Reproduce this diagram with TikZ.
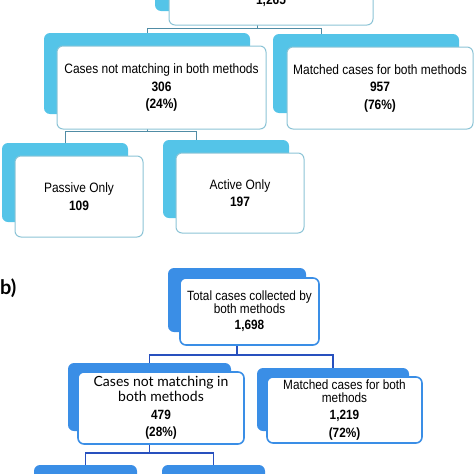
\documentclass[tikz,border=0pt]{standalone}
\usepackage{fontspec}
\usepackage{tikz}
\usetikzlibrary{positioning,calc}
\setmainfont[FakeStretch=0.88]{Liberation Sans}
\newfontfamily\gillfont{Lato}
\definecolor{skyback}{RGB}{84,196,232}
\definecolor{skyedge}{RGB}{140,196,214}
\definecolor{skyline}{RGB}{80,140,165}
\definecolor{deepback}{RGB}{58,142,230}
\definecolor{deepline}{RGB}{40,80,190}
\newcommand\boxfonta{\fontsize{13.6}{17.5}\selectfont}
\newcommand\boxfontb{\fontsize{13.4}{12.5}\selectfont}
\newcommand\numb[1]{{\normalfont\bfseries #1}}

\begin{document}
\begin{tikzpicture}[%
    x=1pt, y=-1pt,              % pixel grid, top to bottom
    ]
\tikzset{
  backa/.style={fill=skyback, rounded corners=6pt, inner sep=0pt},
  fronta/.style={draw=skyedge, fill=white, line width=1pt, rounded corners=6pt, align=center, font=\boxfonta, inner sep=0pt},
  backb/.style={fill=deepback, rounded corners=6pt, inner sep=0pt},
  frontb/.style={draw=deepback, fill=white, line width=1.6pt, rounded corners=6pt, align=center, font=\boxfontb, inner sep=0pt},
  linka/.style={draw=skyline, line width=0.9pt},
  linkb/.style={draw=deepline, line width=1.8pt},
}
\useasboundingbox (0,0) rectangle (474,474);
\clip (0,0) rectangle (474,474);

% (a) back boxes
\node [backa, minimum width=204, minimum height=66] (a0b) at (257,-22) {};
\node [backa, minimum width=206, minimum height=81] (a1b) at (147,73.5) {};
\node [backa, minimum width=186, minimum height=79] (a2b) at (366,73.5) {};
\node [backa, minimum width=126, minimum height=79] (a3b) at (65,182.5) {};
\node [backa, minimum width=126, minimum height=78] (a4b) at (226,179) {};

% (b) back boxes
\node [backb, minimum width=138, minimum height=64] (b0b) at (237,300) {};
\node [backb, minimum width=163, minimum height=68] (b1b) at (149.5,397) {};
\node [backb, minimum width=152, minimum height=63] (b2b) at (333,399.5) {};
\node [backb, minimum width=103, minimum height=70] (b3b) at (85.5,500) {};
\node [backb, minimum width=103, minimum height=70] (b4b) at (213.5,500) {};

%connect
\draw [linka] (a0b.south) -- ++(0,17) -| (a1b.north);
\draw [linka] (a0b.south) -- ++(0,17) -| ([xshift=-45]a2b.north);
\draw [linka] (a1b.south) -- ++(0,17) -| (a3b.north);
\draw [linka] (a1b.south) -- ++(0,17) -| ([xshift=-30]a4b.north);
\draw [linkb] (b0b.south) -- ++(0,23) -| (b1b.north);
\draw [linkb] (b0b.south) -- ++(0,23) -| (b2b.north);
\draw [linkb] (b1b.south) -- ++(0,22) -| (b3b.north);
\draw [linkb] (b1b.south) -- ++(0,22) -| (b4b.north);

% (a) front boxes
\node [fronta, minimum width=204, minimum height=66] (a0) at (271,-8) {};
\node [font=\boxfonta\bfseries, anchor=base] (a0num) at (271,4) {1,265};
\node [fronta, minimum width=209, minimum height=83] (a1) at (161.5,87.5)
  {Cases not matching in both methods\\ \numb{306}\\ \numb{(24\%)}};
\node [fronta, minimum width=186, minimum height=82] (a2) at (380,88)
  {Matched cases for both methods\\ \numb{957}\\ \numb{(76\%)}};
\node [fronta, minimum width=128, minimum height=81] (a3) at (79,196.5)
  {Passive Only\\ \numb{109}};
\node [fronta, minimum width=128, minimum height=80] (a4) at (240,193)
  {Active Only\\ \numb{197}};

% (b)
\node [font=\gillfont\bfseries\fontsize{20}{20}\selectfont, anchor=base west, inner sep=0pt] (blabel) at (0,294) {b)};
\node [frontb, minimum width=139, minimum height=67] (b0) at (249.5,311.5)
  {Total cases collected by\\ both methods\\[4pt] \numb{1,698}};
\node [frontb, minimum width=166, minimum height=72] (b1) at (161,408)
  {{\gillfont\fontsize{14}{14}\selectfont Cases not matching in}\\[1pt]
   {\gillfont\fontsize{14}{14}\selectfont both methods}\\[5pt] \numb{479}\\[5pt] \numb{(28\%)}};
\node [frontb, minimum width=155, minimum height=66] (b2) at (344.5,410)
  {Matched cases for both\\ methods\\[5pt] \numb{1,219}\\[5pt] \numb{(72\%)}};

\end{tikzpicture}
\end{document}
